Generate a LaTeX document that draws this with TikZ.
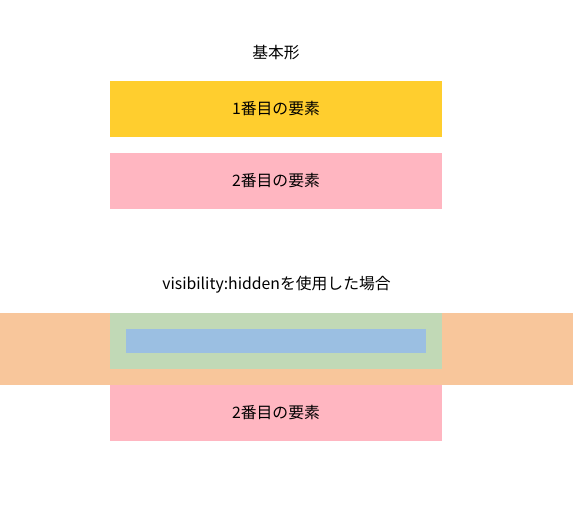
\documentclass[tikz,border=0pt]{standalone}
\usepackage{fontspec}
\setmainfont{Noto Sans CJK JP}
\definecolor{cyellow}{HTML}{FFCE2E}
\definecolor{cpink}{HTML}{FFB6C1}
\definecolor{corange}{HTML}{F8C69B}
\definecolor{cgreen}{HTML}{C1D9B6}
\definecolor{cblue}{HTML}{9BBFE2}
\begin{document}
\begin{tikzpicture}[x=1pt,y=-1pt,
  lbl/.style={font=\fontsize{15.8}{18}\selectfont, text=black, inner sep=0pt}]
\useasboundingbox (0,0) rectangle (573,519);
% basic form
\node[lbl] (t1) at (276,53) {基本形};
\fill[cyellow] (110,81) rectangle (442,137);
\node[lbl] (b1) at (276,109) {1番目の要素};
\fill[cpink] (110,153) rectangle (442,209);
\node[lbl] (b2) at (276,181) {2番目の要素};
% visibility hidden
\node[lbl] (t2) at (276.5,285) {visibility:hiddenを使用した場合};
\fill[corange] (0,313) rectangle (573,385);
\fill[cgreen] (110,313) rectangle (442,369);
\fill[cblue] (126,329) rectangle (426,353);
\fill[cpink] (110,385) rectangle (442,441);
\node[lbl] (b3) at (276,413) {2番目の要素};
\end{tikzpicture}
\end{document}
